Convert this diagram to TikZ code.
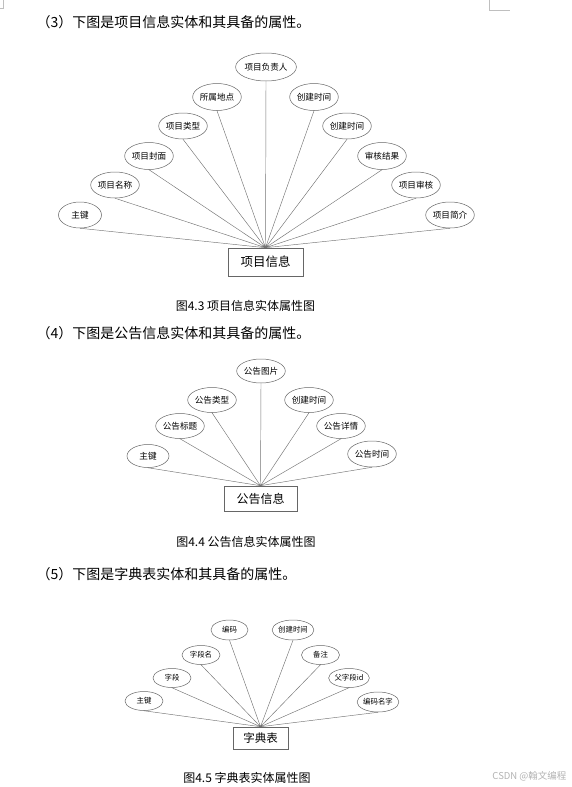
\documentclass[tikz,border=0pt]{standalone}
\usepackage{fontspec}
\setmainfont{Noto Sans CJK SC}
\usepackage{xcolor}
\colorlet{colLine}{black!55}
\colorlet{colEdge}{black!60}
\usepackage{tikz}
\usetikzlibrary{shapes.geometric}

\begin{document}
\begin{tikzpicture}[x=1pt, y=-1pt,
		attr/.style={ellipse, draw=colEdge, line width=0.5pt, inner sep=0pt, minimum width=43pt, minimum height=26pt, font=\fontsize{8.6}{8.6}\selectfont},
		attrs/.style={attr, minimum width=38pt, minimum height=19pt, font=\fontsize{7.4}{7.4}\selectfont},
		ent/.style={rectangle, draw=colEdge, line width=0.6pt, inner sep=0pt},
		link/.style={draw=colLine, line width=0.45pt},
		title/.style={anchor=west, font=\fontsize{14}{14}\selectfont},
		caption/.style={font=\fontsize{12}{12}\selectfont}]
	\useasboundingbox (0,0) rectangle (572,787);
	% page corner marks
	\draw[black!25, line width=0.6pt] (0,8) -- (3,8) -- (3,0);
	\draw[black!25, line width=0.6pt] (489,0) -- (489,10) -- (510,10);

	% (3) project
	\node[title] (t1) at (33,22) {（3）下图是项目信息实体和其具备的属性。};
	\node[ent, minimum width=75pt, minimum height=28pt, font=\fontsize{12.5}{12.5}\selectfont] (pe) at (265.5,262) {项目信息};
	\node[attr] (p1) at (80,215) {主键};
	\node[attr] (p2) at (115,185) {项目名称};
	\node[attr, minimum width=44pt, minimum height=27pt] (p3) at (149,156) {项目封面};
	\node[attr] (p4) at (183,126) {项目类型};
	\node[attr, minimum width=44pt, minimum height=27pt] (p5) at (217,97) {所属地点};
	\node[attr, minimum width=48pt, minimum height=28pt] (p6) at (266,67) {项目负责人};
	\node[attr, minimum height=27pt] (p7) at (314,97) {创建时间};
	\node[attr] (p8) at (347,126) {创建时间};
	\node[attr, minimum height=27pt] (p9) at (382,156) {审核结果};
	\node[attr] (p10) at (416,185) {项目审核};
	\node[attr] (p11) at (450,215) {项目简介};
	\path[link] (pe.north) -- (p1.south) (pe.north) -- (p2.south) (pe.north) -- (p3.south)
		(pe.north) -- (p4.south) (pe.north) -- (p5.south) (pe.north) -- (p6.south)
		(pe.north) -- (p7.south) (pe.north) -- (p8.south) (pe.north) -- (p9.south)
		(pe.north) -- (p10.south) (pe.north) -- (p11.south);
	\node[caption] (c1) at (245.5,306) {图4.3 项目信息实体属性图};

	% (4) notice
	\node[title] (t2) at (33,333) {（4）下图是公告信息实体和其具备的属性。};
	\node[ent, minimum width=73pt, minimum height=25pt, font=\fontsize{12}{12}\selectfont] (ne) at (260.5,498.5) {公告信息};
	\node[attr, minimum width=42pt, minimum height=23pt] (n1) at (148,456) {主键};
	\node[attr, minimum width=42pt, minimum height=25pt] (n2) at (180,426) {公告标题};
	\node[attr, minimum width=42pt, minimum height=25pt] (n3) at (212,400) {公告类型};
	\node[attr, minimum width=43pt, minimum height=24pt] (n4) at (261,371) {公告图片};
	\node[attr, minimum width=42pt, minimum height=25pt] (n5) at (309,400) {创建时间};
	\node[attr, minimum width=42pt, minimum height=25pt] (n6) at (341,426) {公告详情};
	\node[attr, minimum width=41pt, minimum height=26pt] (n7) at (372,454) {公告时间};
	\path[link] (ne.north) -- (n1.south) (ne.north) -- (n2.south) (ne.north) -- (n3.south)
		(ne.north) -- (n4.south) (ne.north) -- (n5.south) (ne.north) -- (n6.south)
		(ne.north) -- (n7.south);
	\node[caption] (c2) at (246,542) {图4.4 公告信息实体属性图};

	% (5) dictionary
	\node[title] (t3) at (33,574) {（5）下图是字典表实体和其具备的属性。};
	\node[ent, minimum width=55pt, minimum height=22pt, font=\fontsize{11.5}{11.5}\selectfont] (de) at (260.5,738) {字典表};
	\node[attrs] (d1) at (144,701) {主键};
	\node[attrs] (d2) at (172,678) {字段};
	\node[attrs] (d3) at (201,655) {字段名};
	\node[attrs, minimum width=37pt, minimum height=20pt] (d4) at (229.5,630) {编码};
	\node[attrs, minimum width=40pt, minimum height=20pt] (d5) at (293,630) {创建时间};
	\node[attrs] (d6) at (320.5,655) {备注};
	\node[attrs] (d7) at (349,678) {父字段id};
	\node[attrs, minimum width=40pt, minimum height=20pt] (d8) at (378,702) {编码名字};
	\path[link] (de.north) -- (d1.south) (de.north) -- (d2.south) (de.north) -- (d3.south)
		(de.north) -- (d4.south) (de.north) -- (d5.south) (de.north) -- (d6.south)
		(de.north) -- (d7.south) (de.north) -- (d8.south);
	\node[caption] (c3) at (247,778) {图4.5 字典表实体属性图};

	\node[anchor=east, text=black!30, font=\fontsize{9.5}{9.5}\selectfont] (wm) at (570,776) {CSDN @翰文编程};
\end{tikzpicture}
\end{document}
